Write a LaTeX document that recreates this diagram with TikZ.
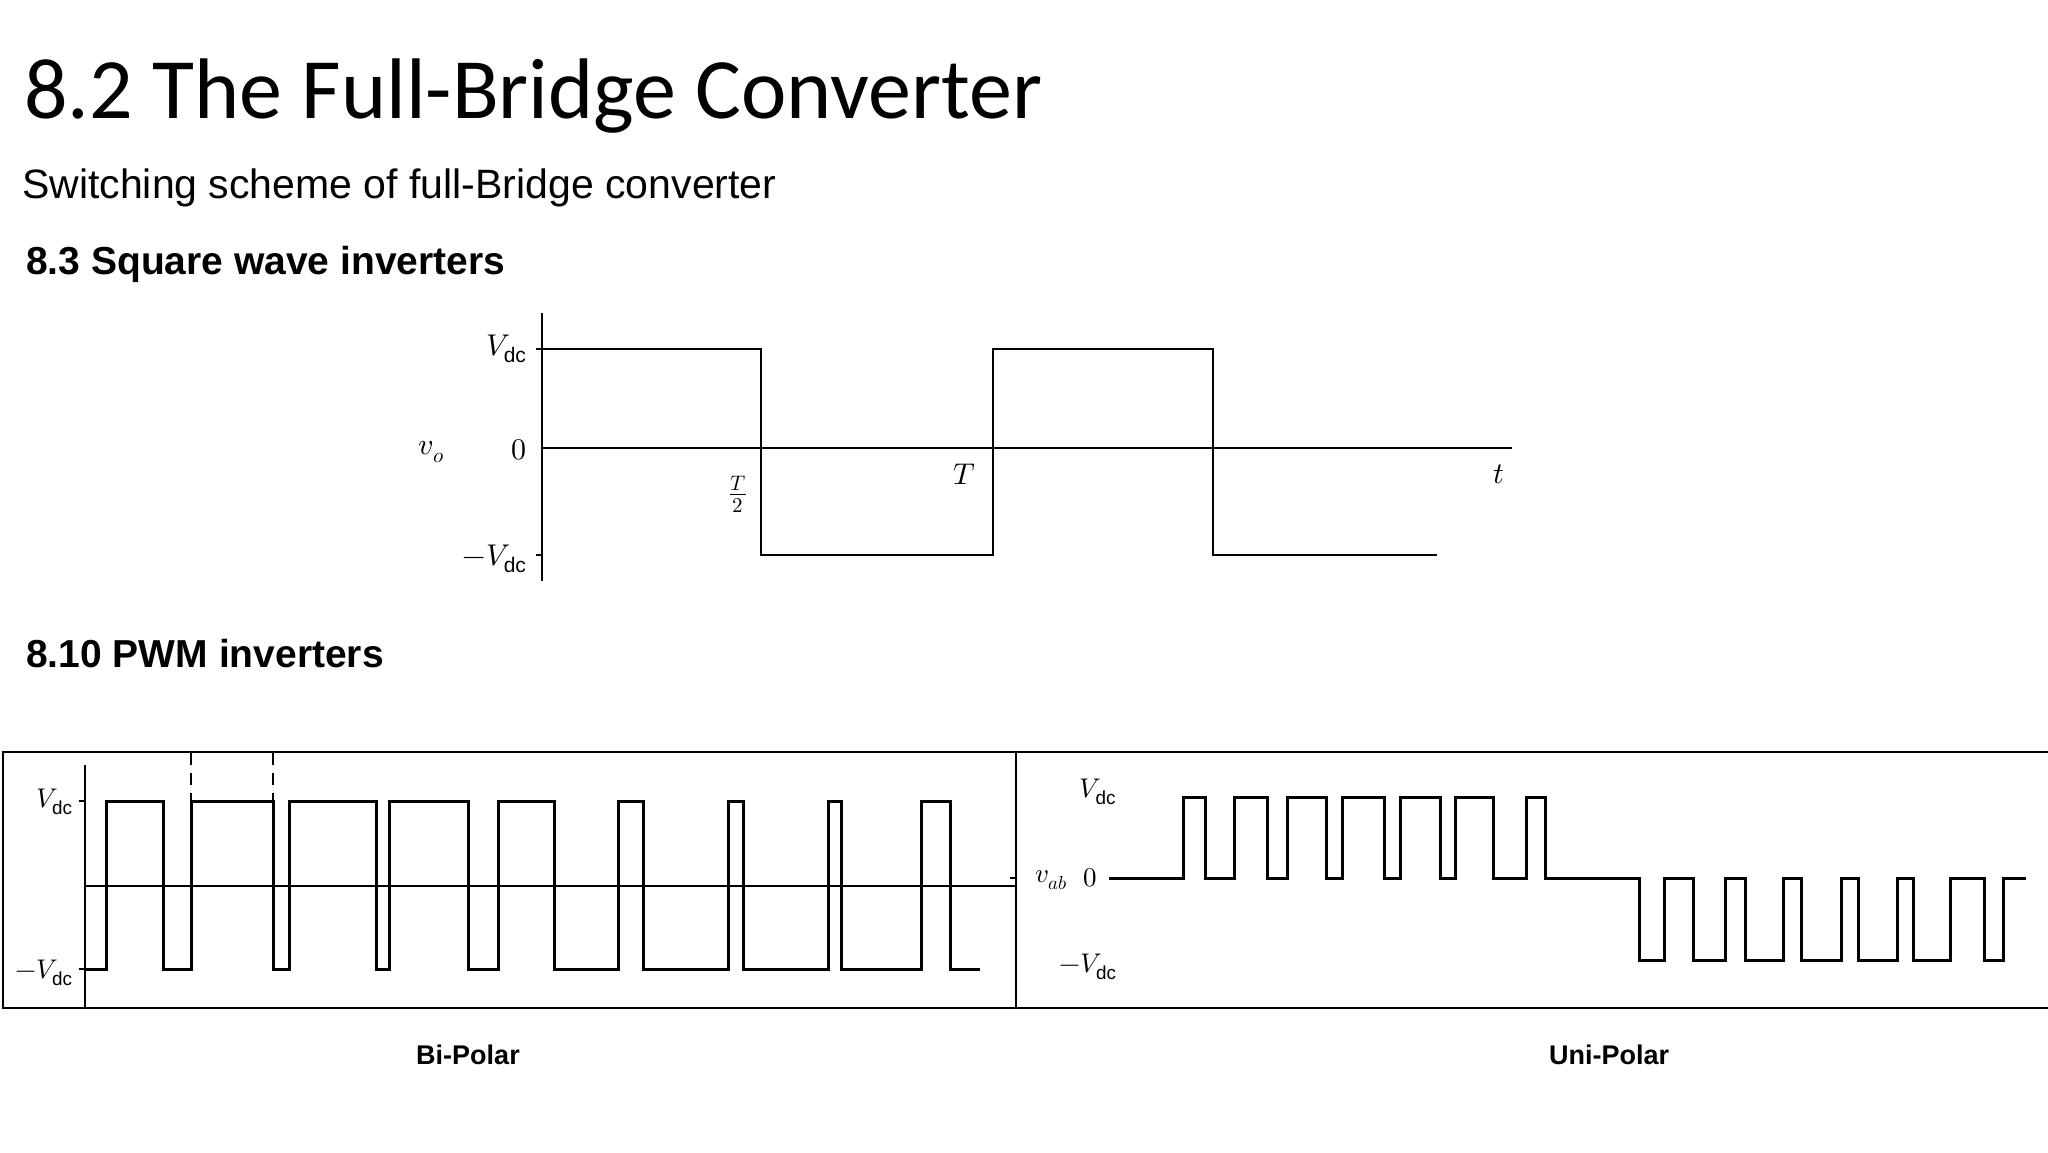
\documentclass[tikz,border=0pt]{standalone}
\usepackage{fontspec}
\setmainfont{Liberation Sans}
\newfontfamily\calib{Carlito}
\usepackage{unicode-math}
\setmathfont{Latin Modern Math}
\begin{document}
\begin{tikzpicture}[x=1pt,y=-1pt,
  wave/.style={line width=3pt,line join=miter},
  ax/.style={line width=1.6pt},
  lab/.style={font=\fontsize{30}{30}\selectfont},
  slab/.style={font=\fontsize{27}{27}\selectfont}]
\useasboundingbox (0,0) rectangle (2048,1152);
% titles
\node[anchor=base west,inner sep=0,font=\calib\fontsize{86}{86}\selectfont] (title) at (24,118) {8.2 The Full-Bridge Converter};
\node[anchor=base west,inner sep=0,font=\fontsize{41}{41}\selectfont] (sub) at (22,198) {Switching scheme of full-Bridge converter};
\node[anchor=base west,inner sep=0,font=\bfseries\fontsize{39}{39}\selectfont] (s83) at (26,274) {8.3 Square wave inverters};
\node[anchor=base west,inner sep=0,font=\bfseries\fontsize{39}{39}\selectfont] (s810) at (26,667) {8.10 PWM inverters};
% square wave
\draw[ax] (542,313) -- (542,581);
\draw[ax] (542,448) -- (1512,448);
\draw[ax] (536,349) -- (542,349);
\draw[ax] (536,555) -- (542,555);
\draw[wave,line width=2.6pt] (542,349) -- (761,349) -- (761,555) -- (993,555) -- (993,349) -- (1213,349) -- (1213,555) -- (1437,555);
\node[lab,anchor=east] (vdc1) at (530,349) {$V_{\mathrm{dc}}$};
\node[lab,anchor=east] (vo) at (448,452) {$v_o$};
\node[lab,anchor=east] (z1) at (530,450) {$0$};
\node[lab,anchor=east] (mvdc1) at (530,559) {$-V_{\mathrm{dc}}$};
\node[lab] (t2) at (738,494) {$\frac{T}{2}$};
\node[lab] (T) at (964,474) {$T$};
\node[lab] (t) at (1499,474) {$t$};
% PWM frames
\draw[line width=1.6pt] (3,752) rectangle (2060,1008);
\draw[line width=1.6pt] (1016,752) -- (1016,1008);
% bipolar
\draw[ax] (85,765) -- (85,1008);
\draw[ax] (85,886) -- (1016,886);
\draw[ax] (79,801) -- (85,801);
\draw[ax] (79,969) -- (85,969);
\draw[ax,dashed,dash pattern=on 12pt off 8pt] (191,753) -- (191,801);
\draw[ax,dashed,dash pattern=on 12pt off 8pt] (273,753) -- (273,801);
\draw[wave] (85,969) -- (106,969) -- (106,801) -- (163,801) -- (163,969) -- (191,969) -- (191,801)
 -- (273,801) -- (273,969) -- (289,969) -- (289,801) -- (376,801) -- (376,969) -- (389,969) -- (389,801)
 -- (468,801) -- (468,969) -- (498,969) -- (498,801) -- (554,801) -- (554,969) -- (618,969) -- (618,801)
 -- (643,801) -- (643,969) -- (728,969) -- (728,801) -- (743,801) -- (743,969) -- (828,969) -- (828,801)
 -- (841,801) -- (841,969) -- (921,969) -- (921,801) -- (950,801) -- (950,969) -- (980,969);
\node[slab,anchor=east] (vdc2) at (76,802) {$V_{\mathrm{dc}}$};
\node[slab,anchor=east] (mvdc2) at (76,973) {$-V_{\mathrm{dc}}$};
% unipolar
\draw[ax] (1010,878) -- (1016,878);
\draw[wave] (1109,878) -- (1183,878) -- (1183,797) -- (1205,797) -- (1205,878) -- (1234,878) -- (1234,797)
 -- (1267,797) -- (1267,878) -- (1287,878) -- (1287,797) -- (1326,797) -- (1326,878) -- (1342,878) -- (1342,797)
 -- (1384,797) -- (1384,878) -- (1400,878) -- (1400,797) -- (1440,797) -- (1440,878) -- (1455,878) -- (1455,797)
 -- (1493,797) -- (1493,878) -- (1526,878) -- (1526,797) -- (1545,797) -- (1545,878)
 -- (1639,878) -- (1639,960) -- (1664,960) -- (1664,878) -- (1693,878) -- (1693,960) -- (1725,960) -- (1725,878)
 -- (1745,878) -- (1745,960) -- (1783,960) -- (1783,878) -- (1801,878) -- (1801,960) -- (1841,960) -- (1841,878)
 -- (1858,878) -- (1858,960) -- (1897,960) -- (1897,878) -- (1913,878) -- (1913,960) -- (1950,960) -- (1950,878)
 -- (1984,878) -- (1984,960) -- (2003,960) -- (2003,878) -- (2026,878);
\node[slab] (vdc3) at (1098,792) {$V_{\mathrm{dc}}$};
\node[slab] (vab) at (1051,880) {$v_{ab}$};
\node[slab] (z3) at (1090,878) {$0$};
\node[slab] (mvdc3) at (1088,967) {$-V_{\mathrm{dc}}$};
% captions
\node[font=\bfseries\fontsize{27}{27}\selectfont] (bi) at (468,1055) {Bi-Polar};
\node[font=\bfseries\fontsize{27}{27}\selectfont] (uni) at (1609,1055) {Uni-Polar};
\end{tikzpicture}
\end{document}
